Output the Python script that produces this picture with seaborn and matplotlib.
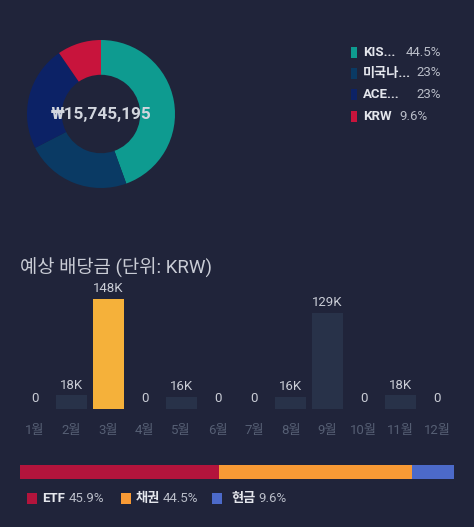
import matplotlib
matplotlib.use("Agg")
import matplotlib.pyplot as plt
import matplotlib.patches as mpatches
import seaborn as sns
import numpy as np
import pandas as pd

# %% data
total_label = "₩15,745,195"
hold_names = ["KIS...", "미국나...", "ACE...", "KRW"]
hold_pct = [44.5, 23.0, 23.0, 9.6]
hold_pct_text = ["44.5%", "23%", "23%", "9.6%"]
hold_colors = ["#0e9b90", "#0a3a64", "#0c2266", "#c8143c"]

months = ["1월", "2월", "3월", "4월", "5월", "6월", "7월", "8월", "9월", "10월", "11월", "12월"]
dividends = [0, 18000, 148000, 0, 16000, 0, 0, 16000, 129000, 0, 18000, 0]
div_labels = ["0", "18K", "148K", "0", "16K", "0", "0", "16K", "129K", "0", "18K", "0"]
highlight_month = "3월"

asset_names = ["ETF", "채권", "현금"]
asset_pct = [45.9, 44.5, 9.6]
asset_colors = ["#b3143c", "#f89a35", "#4c6ac9"]

BG = "#20243a"
W, H = 474, 527

sns.set_theme(style="dark")
plt.rcParams["font.family"] = ["Roboto", "Noto Sans CJK KR", "DejaVu Sans"]
plt.rcParams["axes.facecolor"] = BG
plt.rcParams["figure.facecolor"] = BG


def box(x0, y0, x1, y1):
    # pixel box (top-left origin) -> figure fraction
    return [x0 / W, 1 - y1 / H, (x1 - x0) / W, (y1 - y0) / H]


fig = plt.figure(figsize=(W / 100, H / 100), dpi=100)

# %% donut
ax_d = fig.add_axes(box(27, 40, 175, 188))
ax_d.pie(hold_pct, colors=hold_colors, startangle=90, counterclock=False,
         radius=1, wedgeprops=dict(width=0.47, linewidth=0))
ax_d.set_xlim(-1, 1)
ax_d.set_ylim(-1, 1)
ax_d.set_aspect("equal")
ax_d.text(0, 0, total_label, ha="center", va="center", fontsize=12.3,
          fontweight="bold", color="#d2d6de")

# %% overlay for legend / titles
ov = fig.add_axes([0, 0, 1, 1], zorder=5)
ov.set_xlim(0, W)
ov.set_ylim(H, 0)
ov.axis("off")
ov.patch.set_alpha(0)

row_y = [52, 73, 94, 116]
for k, (name, ptxt, col, y) in enumerate(zip(hold_names, hold_pct_text, hold_colors, row_y)):
    ov.add_patch(mpatches.Rectangle((351, y - 5.5), 6, 11, color=col, lw=0))
    ov.text(363, y, name, ha="left", va="center", fontsize=9.5,
            fontweight="bold", color="#e4e6ec")
    if k < 3:
        ov.text(441, y, ptxt, ha="right", va="center", fontsize=9.5, color="#b9bdc8")
    else:
        ov.text(399, y, ptxt, ha="left", va="center", fontsize=9.5, color="#b9bdc8")

ov.text(20, 268, "예상 배당금 (단위: KRW)", ha="left", va="center",
        fontsize=13.5, color="#c9ccd5")

# %% monthly bars
df = pd.DataFrame({"month": months, "value": dividends})
df["hl"] = np.where(df["month"] == highlight_month, "hi", "lo")
ymax = 160000
bar_h_px = ymax * 110 / 148000
ax_b = fig.add_axes(box(16.7, 408.7 - bar_h_px, 455.3, 408.7))
sns.barplot(data=df, x="month", y="value", hue="hl", order=months,
            palette={"hi": "#f5b13a", "lo": "#283249"}, width=0.85,
            dodge=False, legend=False, ax=ax_b, saturation=1, linewidth=0)
ax_b.set_ylim(0, ymax)
ax_b.set_xlim(-0.5, 11.5)
ax_b.set_facecolor(BG)
for s in ax_b.spines.values():
    s.set_visible(False)
ax_b.set_yticks([])
ax_b.set_xlabel("")
ax_b.set_ylabel("")
ax_b.tick_params(axis="x", length=0, pad=11, labelsize=9.5, labelcolor="#565f74")
ax_b.grid(False)
for i, (v, lab) in enumerate(zip(dividends, div_labels)):
    ax_b.annotate(lab, (i, v), xytext=(0, 2.5), textcoords="offset points",
                  ha="center", va="bottom", fontsize=9.5, color="#c9ccd5")

# %% allocation bar
ax_s = fig.add_axes(box(20, 465.3, 454, 479))
left = np.concatenate([[0], np.cumsum(asset_pct)[:-1]])
ax_s.barh([0] * 3, asset_pct, left=left, color=asset_colors, height=1, linewidth=0)
ax_s.set_xlim(0, sum(asset_pct))
ax_s.set_ylim(-0.5, 0.5)
ax_s.axis("off")

leg_sq = [27, 121, 212]
leg_name = [42, 136, 231]
leg_pct = [69, 163, 258]
for n, p, c, sx, nx, px in zip(asset_names, asset_pct, asset_colors, leg_sq, leg_name, leg_pct):
    ov.add_patch(mpatches.Rectangle((sx, 493), 10.5, 10.5, color=c, lw=0))
    ov.text(nx, 498.5, n, ha="left", va="center", fontsize=9.5,
            fontweight="bold", color="#e4e6ec")
    ov.text(px, 498.5, f"{p}%", ha="left", va="center", fontsize=9.5, color="#b9bdc8")

fig.savefig("out.png", dpi=100, facecolor=BG)
